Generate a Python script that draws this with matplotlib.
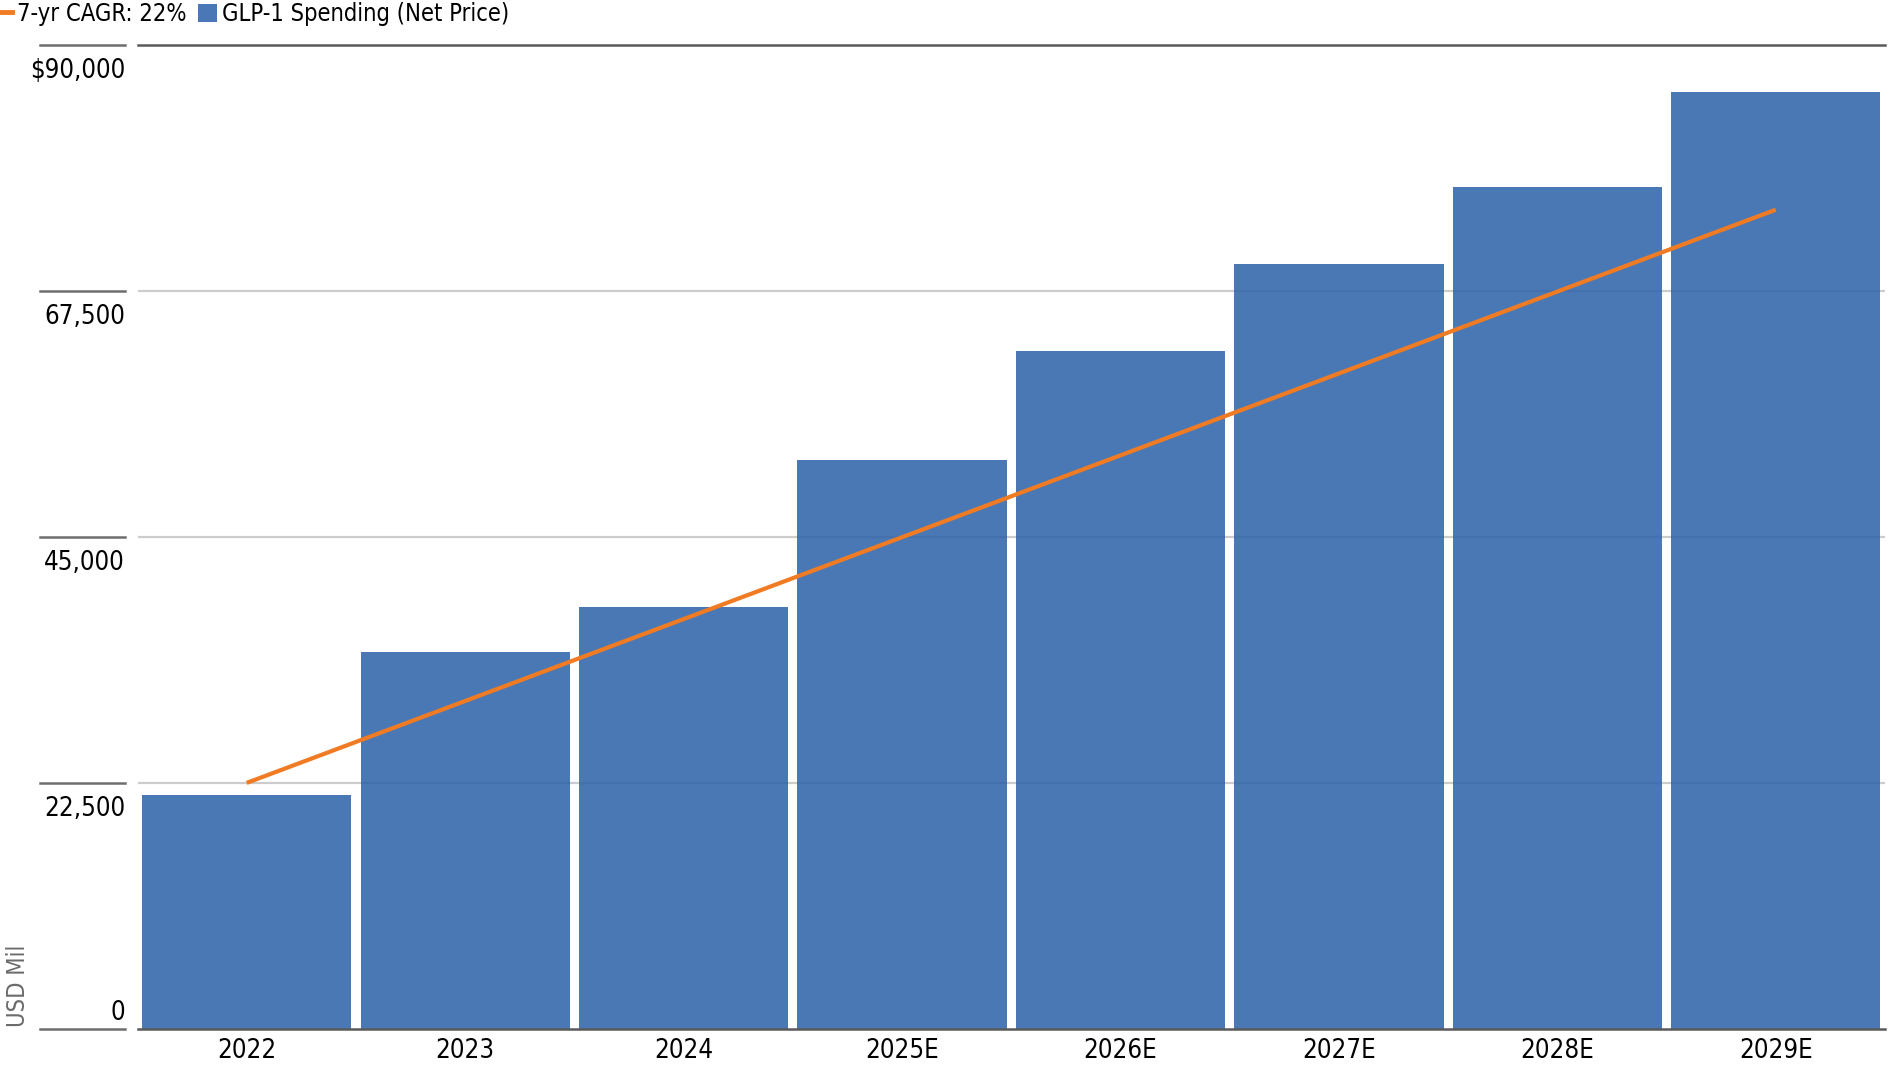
import matplotlib
matplotlib.use("Agg")
import matplotlib.pyplot as plt
from matplotlib import font_manager
from matplotlib.lines import Line2D
from matplotlib.patches import Patch
from matplotlib.transforms import blended_transform_factory, offset_copy

years = ["2022", "2023", "2024", "2025E", "2026E", "2027E", "2028E", "2029E"]
spending = [21400, 34500, 38600, 52000, 62000, 69900, 77000, 85700]
cagr_start = 22500
cagr_end = 74900
y_ticks = [0, 22500, 45000, 67500, 90000]
y_labels = ["0", "22,500", "45,000", "67,500", "$90,000"]

BLUE = "#3165aa"   # drawn with alpha so the grid shows faintly through
ORANGE = "#f07b22"
DARK = "#5a5a5a"

# want a narrow face like the original; use condensed DejaVu if it is there
fp = font_manager.FontProperties(family="DejaVu Sans", stretch="condensed")
condensed = "Condensed" in font_manager.findfont(fp)
plt.rcParams["font.family"] = ["DejaVu Sans"]
if condensed:
    plt.rcParams["font.stretch"] = "condensed"
    tick_fs, leg_fs, unit_fs = 18.5, 17, 17
else:
    tick_fs, leg_fs, unit_fs = 16.5, 15, 15

W, H = 1896, 1066
fig = plt.figure(figsize=(W / 100, H / 100), dpi=100)
ax = fig.add_axes([137.5 / W, (H - 1029) / H, (1885 - 137.5) / W, (1029 - 44.5) / H])

for v in y_ticks[1:-1]:
    ax.axhline(v, color="#cccccc", lw=1.6, zorder=1)

x = list(range(len(years)))
ax.bar(x, spending, width=0.958, color=BLUE, alpha=0.88, zorder=2)

ax.axhline(y_ticks[-1], color=DARK, lw=1.8, zorder=5, clip_on=False)
ax.axhline(0, color=DARK, lw=1.8, zorder=5, clip_on=False)

ax.plot([x[0], x[-1]], [cagr_start, cagr_end], color=ORANGE, lw=3, zorder=4,
        solid_capstyle="butt")

ax.set_xlim(-0.5, len(years) - 0.5)
ax.set_ylim(0, 90000)
for s in ax.spines.values():
    s.set_visible(False)
ax.set_yticks([])
ax.set_xticks(x)
ax.set_xticklabels(years, fontsize=tick_fs, color="black")
ax.tick_params(axis="x", length=0, pad=6.5)

# left tick segments, labels sit just under them
blend = blended_transform_factory(fig.transFigure, ax.transData)
for v, lab in zip(y_ticks, y_labels):
    ax.plot([40 / W, 125 / W], [v, v], color="#6e6e6e", lw=1.8,
            transform=blend, clip_on=False)
    dy = 9 if v == 0 else -33
    tr = offset_copy(blend, fig=fig, y=dy, units="dots")
    ax.text(125 / W, v, lab, transform=tr, ha="right", va="baseline",
            fontsize=tick_fs, color="black")

fig.text(18 / W, (H - 1027) / H, "USD Mil", rotation=90, ha="center",
         va="bottom", fontsize=unit_fs, color="#6b6b6b")

handles = [Line2D([0], [0], color=ORANGE, lw=3.5),
           Patch(facecolor="#4a77b5", edgecolor="none")]
fig.legend(handles, ["7-yr CAGR: 22%", "GLP-1 Spending (Net Price)"],
           loc="upper left", bbox_to_anchor=(-7 / W, 1 - 2 / H), ncol=2,
           frameon=False, fontsize=leg_fs, handlelength=0.8, handleheight=0.8,
           handletextpad=0.2, columnspacing=0.5, borderpad=0,
           borderaxespad=0)

fig.savefig("out.png", dpi=100)
